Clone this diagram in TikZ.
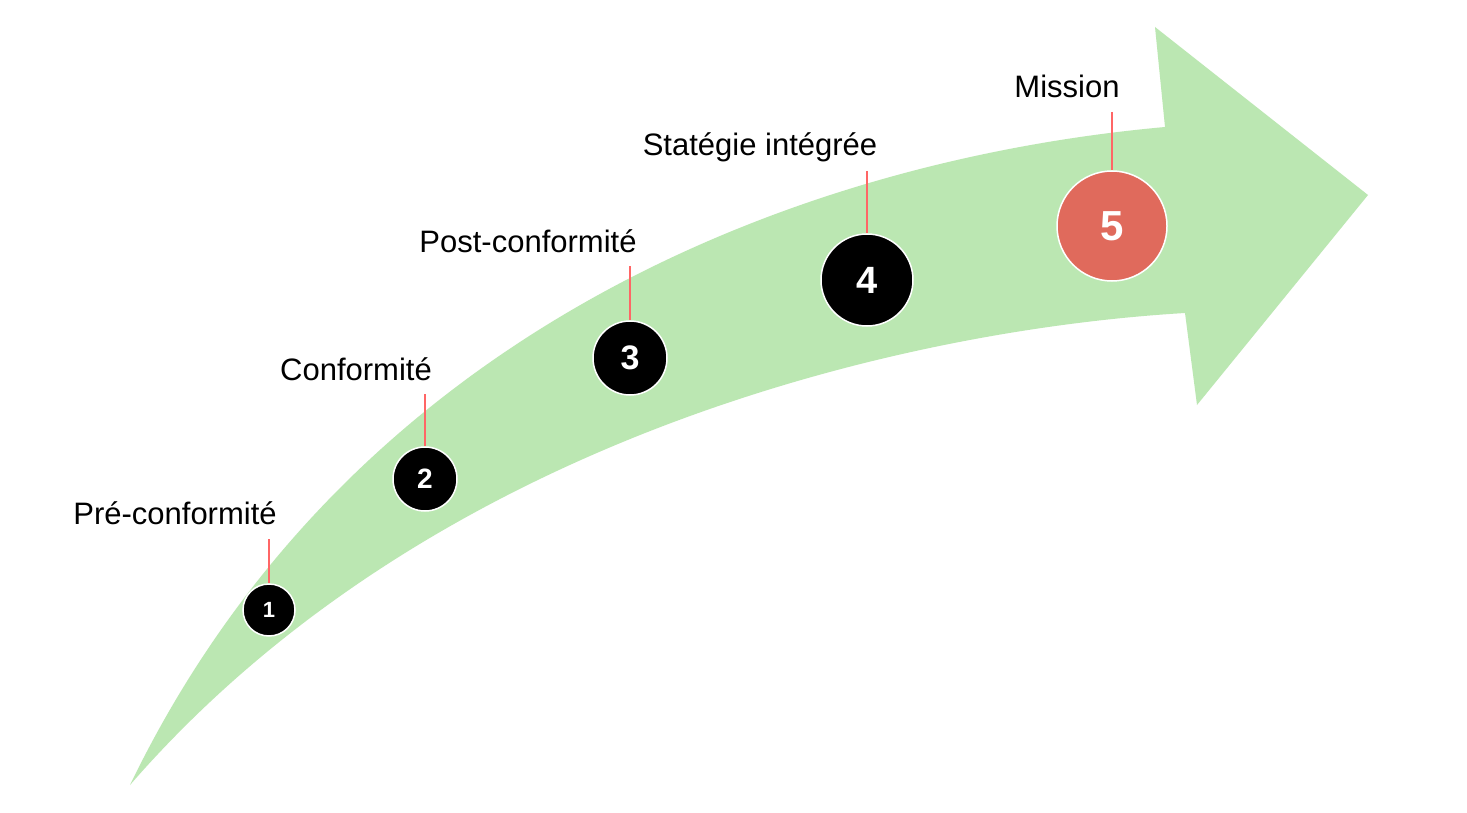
\documentclass[tikz,border=0pt]{standalone}
\usepackage{fontspec}
\setmainfont{Liberation Sans}
\begin{document}
\begin{tikzpicture}[x=1pt,y=-1pt,
  num/.style={circle,fill=black,draw=white,line width=1.5pt,text=white,font=\bfseries,inner sep=0pt},
  lab/.style={font=\fontsize{31}{31}\selectfont,anchor=base},
  tick/.style={draw=red!60!white,line width=1.5pt}]
\useasboundingbox (0,0) rectangle (1467,813);
\fill[green!50!lime!30!white,fill=black!0!white] (0,0) rectangle (1467,813);
\definecolor{arr}{HTML}{BBE7B2}
\definecolor{rd}{HTML}{E06A5C}
\fill[arr] (130,785) .. controls (350,330) and (800,160) .. (1165,127) -- (1155,27) -- (1368,195) -- (1197,405) -- (1185,313) .. controls (900,330) and (430,440) .. (130,785) -- cycle;
\node[num,minimum size=52pt,font=\bfseries\fontsize{22}{22}\selectfont] (c1) at (269,610) {1};
\node[num,minimum size=64pt,font=\bfseries\fontsize{28}{28}\selectfont] (c2) at (425,479) {2};
\node[num,minimum size=74pt,font=\bfseries\fontsize{34}{34}\selectfont] (c3) at (630,358) {3};
\node[num,minimum size=92pt,font=\bfseries\fontsize{38}{38}\selectfont] (c4) at (867,280) {4};
\node[num,fill=rd,minimum size=110pt,font=\bfseries\fontsize{42}{42}\selectfont] (c5) at (1112,226) {5};
\coordinate (t1) at (269,539); \coordinate (t2) at (425,394); \coordinate (t3) at (630,266);
\coordinate (t4) at (867,171); \coordinate (t5) at (1112,112);
\foreach \i in {1,...,5}{\draw[tick] (t\i) -- (c\i.north);}
\node[lab] (l1) at (175,524) {Pré-conformité};
\node[lab] (l2) at (356,380) {Conformité};
\node[lab] (l3) at (528,252) {Post-conformité};
\node[lab] (l4) at (760,156) {Statégie intégrée};
\node[lab] (l5) at (1067,98) {Mission};
\end{tikzpicture}
\end{document}
